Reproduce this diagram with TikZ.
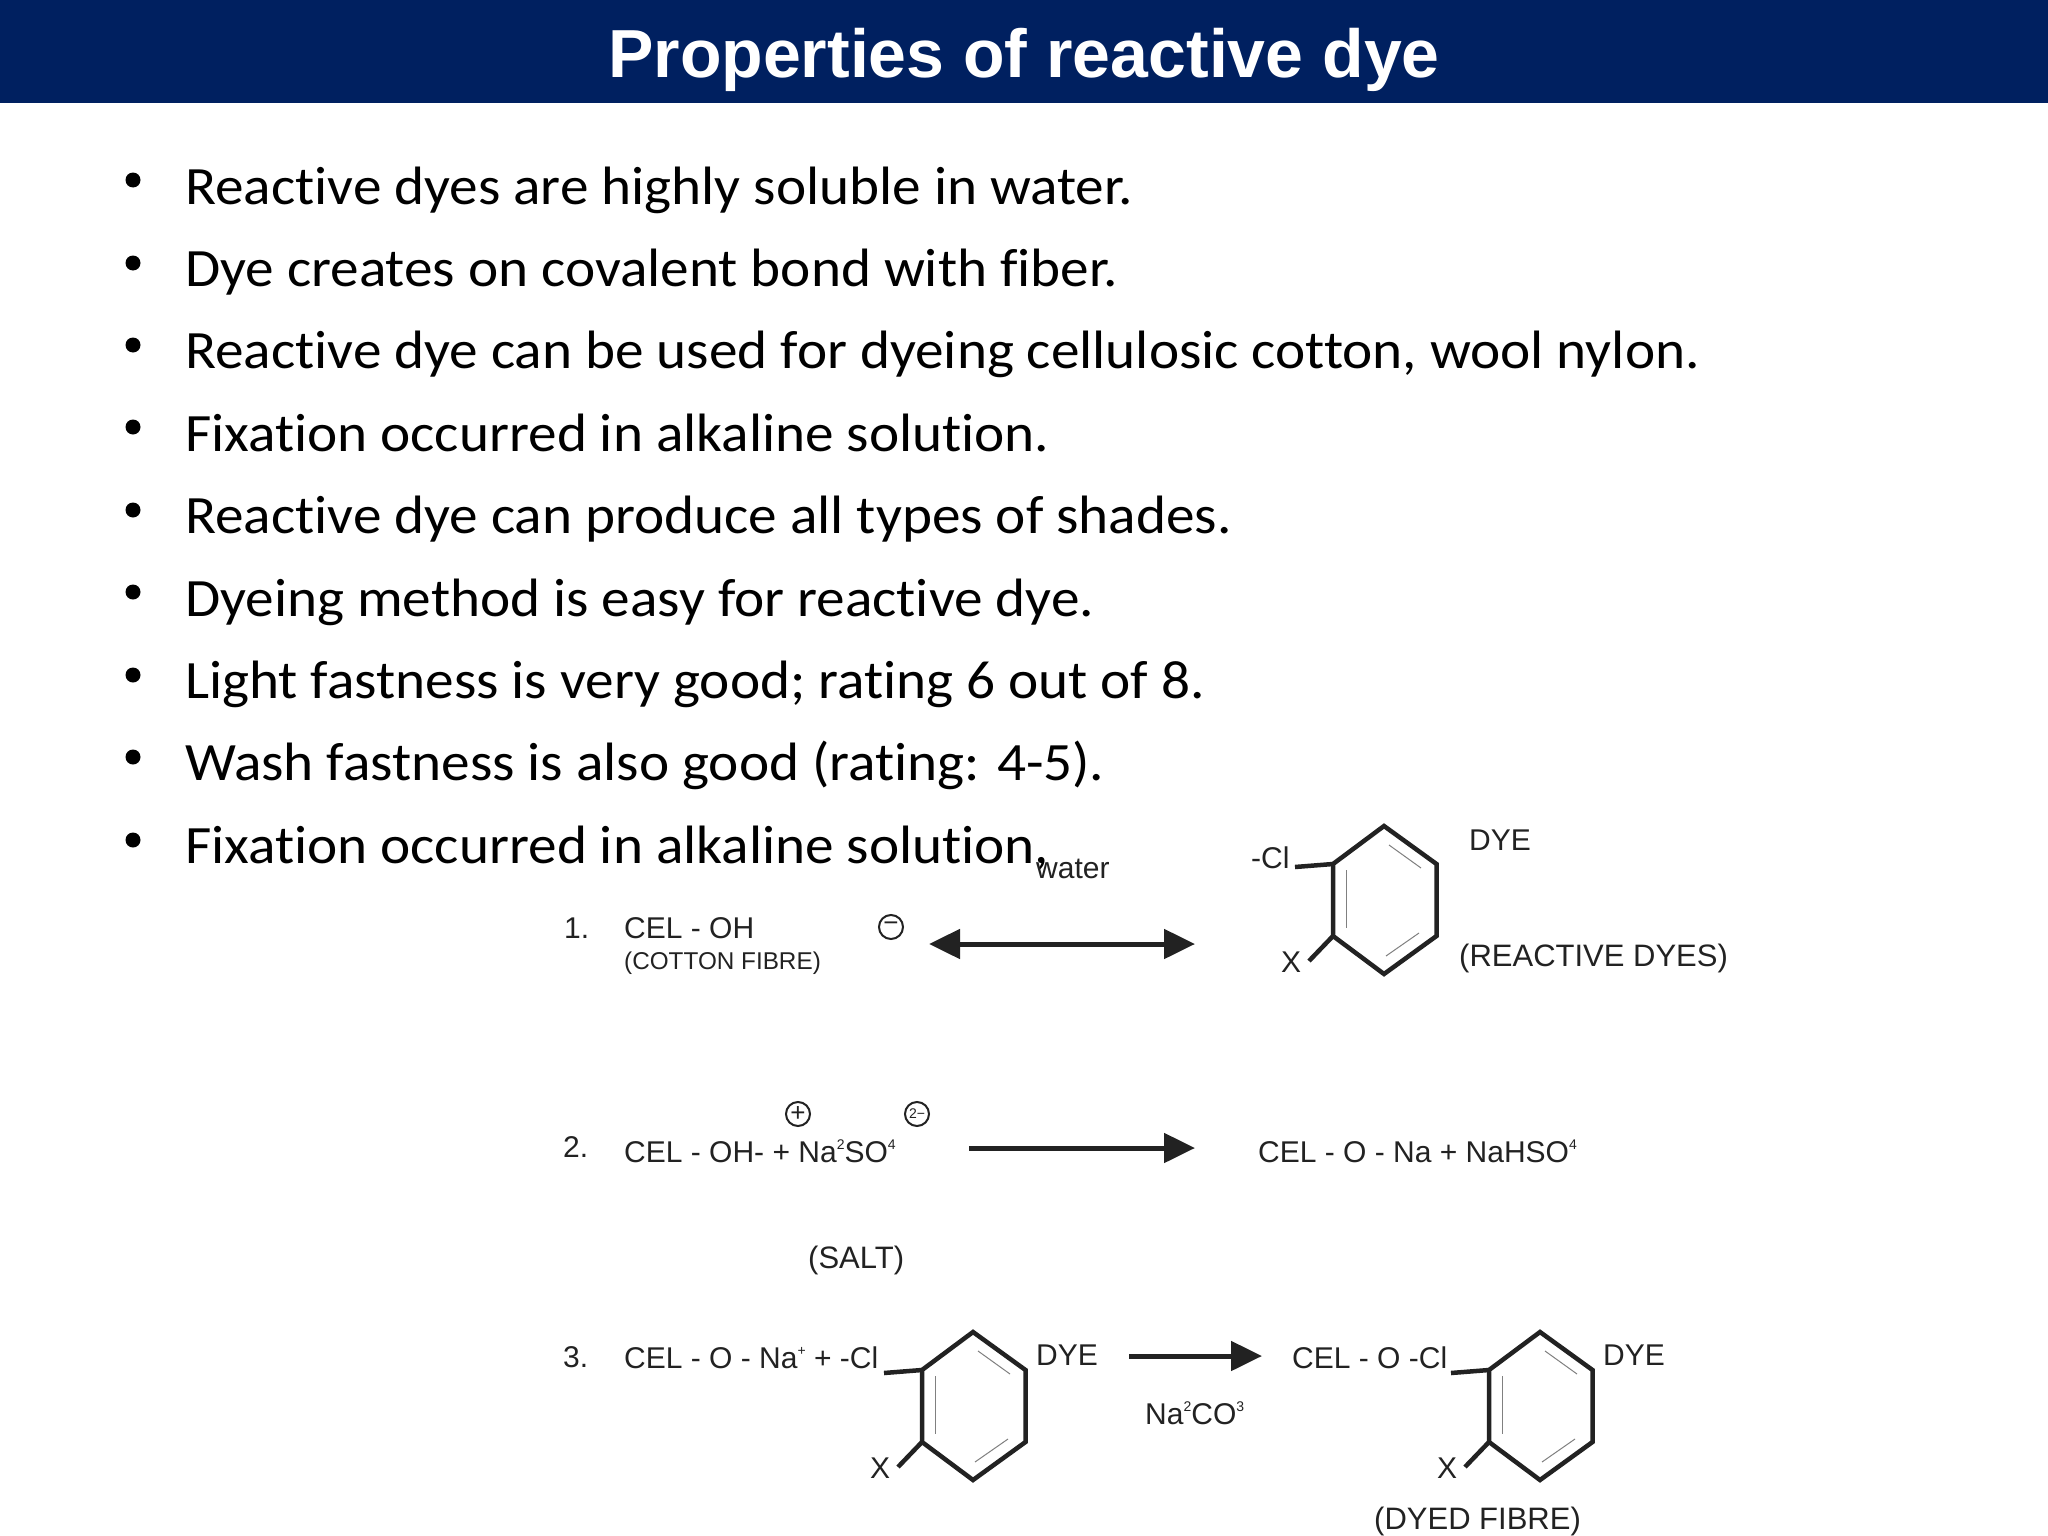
\documentclass[tikz,border=0pt]{standalone}
\usepackage{fontspec}
\setmainfont{Carlito}[Ligatures=NoCommon,FakeStretch=1.06]
\newfontfamily\arialfont{Liberation Sans}
\usetikzlibrary{arrows.meta}
\definecolor{band}{HTML}{002060}
\definecolor{ink}{HTML}{222222}
\newcommand{\chemsup}[1]{\raisebox{13pt}{\fontsize{14}{14}\selectfont #1}}
\tikzset{
  x=1pt,y=-1pt,
  bullettext/.style={anchor=base west,inner sep=0pt,text=black,font=\fontsize{54}{60}\selectfont},
  bulletdot/.style={circle,fill=black,inner sep=0pt,minimum size=15pt},
  chem/.style={anchor=base west,inner sep=0pt,text=ink,font=\arialfont\fontsize{30}{34}\selectfont},
  chemwide/.style={chem,font=\arialfont\fontsize{31}{34}\selectfont},
  chemsmall/.style={chem,font=\arialfont\fontsize{24.3}{28}\selectfont},
  charge/.style={circle,draw=ink,line width=2pt,inner sep=0pt,minimum size=24pt,text=ink,font=\arialfont\fontsize{26}{26}\selectfont},
  ringbond/.style={line width=4.5pt,draw=ink,line join=miter},
  innerbond/.style={line width=1pt,draw=gray},
  rarrow/.style={line width=5pt,draw=ink,-{Triangle[length=31pt,width=29pt]}},
  lrarrow/.style={line width=5pt,draw=ink,{Triangle[length=31pt,width=29pt]}-{Triangle[length=31pt,width=29pt]}},
  pics/benzene/.style={code={
    \coordinate (-a) at (0,0);
    \coordinate (-b) at (52.5,38);
    \coordinate (-c) at (52.5,110);
    \coordinate (-d) at (0,148);
    \coordinate (-e) at (-51,110);
    \coordinate (-f) at (-51,38);
    \coordinate (-cl) at (-89,41);
    \coordinate (-x) at (-75,135);
    \draw[ringbond] (-a) -- (-b) -- (-c) -- (-d) -- (-e) -- (-f) -- cycle;
    \draw[innerbond] (5,19) -- (37,42);
    \draw[innerbond] (-38,44) -- (-38,102);
    \draw[innerbond] (2,130) -- (35,107);
    \draw[ringbond] (-cl) -- (-f);
    \draw[ringbond] (-x) -- (-e);
  }}
}
\begin{document}
\begin{tikzpicture}
\useasboundingbox (0,0) rectangle (2048,1536);
\fill[white] (0,0) rectangle (2048,1536);
\fill[band] (0,0) rectangle (2048,103);
\node (title) at (1024,78) [anchor=base,inner sep=0pt,text=white,font=\arialfont\bfseries\fontsize{68}{72}\selectfont] {Properties of reactive dye};

\node[bulletdot] (b1) at (133,180) {};
\node[bulletdot] (b2) at (133,263) {};
\node[bulletdot] (b3) at (133,345) {};
\node[bulletdot] (b4) at (133,427) {};
\node[bulletdot] (b5) at (133,510) {};
\node[bulletdot] (b6) at (133,592) {};
\node[bulletdot] (b7) at (133,675) {};
\node[bulletdot] (b8) at (133,757) {};
\node[bulletdot] (b9) at (133,840) {};
\node[bullettext] (t1) at (185,204) {Reactive dyes are highly soluble in water.};
\node[bullettext] (t2) at (185,286.4) {Dye creates on covalent bond with fiber.};
\node[bullettext] (t3) at (185,368.8) {Reactive dye can be used for dyeing cellulosic cotton, wool nylon.};
\node[bullettext] (t4) at (185,451.2) {Fixation occurred in alkaline solution.};
\node[bullettext] (t5) at (185,533.6) {Reactive dye can produce all types of shades.};
\node[bullettext] (t6) at (185,616) {Dyeing method is easy for reactive dye.};
\node[bullettext] (t7) at (185,698.4) {Light fastness is very good; rating 6 out of 8.};
\node[bullettext] (t8) at (185,780.8) {Wash fastness is also good (rating: 4-5).};
\node[bullettext] (t9) at (185,863.2) {Fixation occurred in alkaline solution,};

% reaction 1
\node[chem] (water) at (1036,878) {water};
\node[chem] (n1) at (564,938) {1.};
\node[chem] (cel1) at (624,938) {CEL - OH};
\node[chemsmall] (cot) at (624,969) {(COTTON FIBRE)};
\node[charge] (minus) at (891,927) {\raisebox{1pt}{−}};
\coordinate (a1l) at (929,944);
\coordinate (a1r) at (1195,944);
\draw[lrarrow] (a1l) -- (a1r);
\pic (r1) at (1384,826) {benzene};
\node[chem] (cl1) at (1251,868) {-Cl};
\node[chem] (x1) at (1281,972) {X};
\node[chem] (dye1) at (1469,850) {DYE};
\node[chemwide] (rd) at (1459,966) {(REACTIVE DYES)};

% reaction 2
\node[chem] (n2) at (563,1157) {2.};
\node[charge] (plus) at (798,1114) {+};
\node[charge,font=\arialfont\fontsize{14}{14}\selectfont] (two) at (917,1114) {2−};
\node[chem] (cel2) at (624,1162) {CEL - OH- + Na\chemsup{2}SO\chemsup{4}};
\coordinate (a2l) at (969,1148);
\coordinate (a2r) at (1195,1148);
\draw[rarrow] (a2l) -- (a2r);
\node[chem] (prod2) at (1258,1162) {CEL - O - Na + NaHSO\chemsup{4}};
\node[chemwide] (salt) at (808,1268) {(SALT)};

% reaction 3
\node[chem] (n3) at (563,1367) {3.};
\node[chem] (cel3) at (624,1368) {CEL - O - Na\chemsup{+} + -Cl};
\pic (r2) at (973,1332) {benzene};
\node[chem] (x2) at (870,1478) {X};
\node[chem] (dye2) at (1036,1365) {DYE};
\coordinate (a3l) at (1129,1356);
\coordinate (a3r) at (1262,1356);
\draw[rarrow] (a3l) -- (a3r);
\node[chem] (naco) at (1145,1424) {Na\chemsup{2}CO\chemsup{3}};
\node[chem] (cel4) at (1292,1368) {CEL - O -Cl};
\pic (r3) at (1540,1332) {benzene};
\node[chem] (x3) at (1437,1478) {X};
\node[chem] (dye3) at (1603,1365) {DYE};
\node[chemwide] (df) at (1374,1529) {(DYED FIBRE)};
\end{tikzpicture}
\end{document}
